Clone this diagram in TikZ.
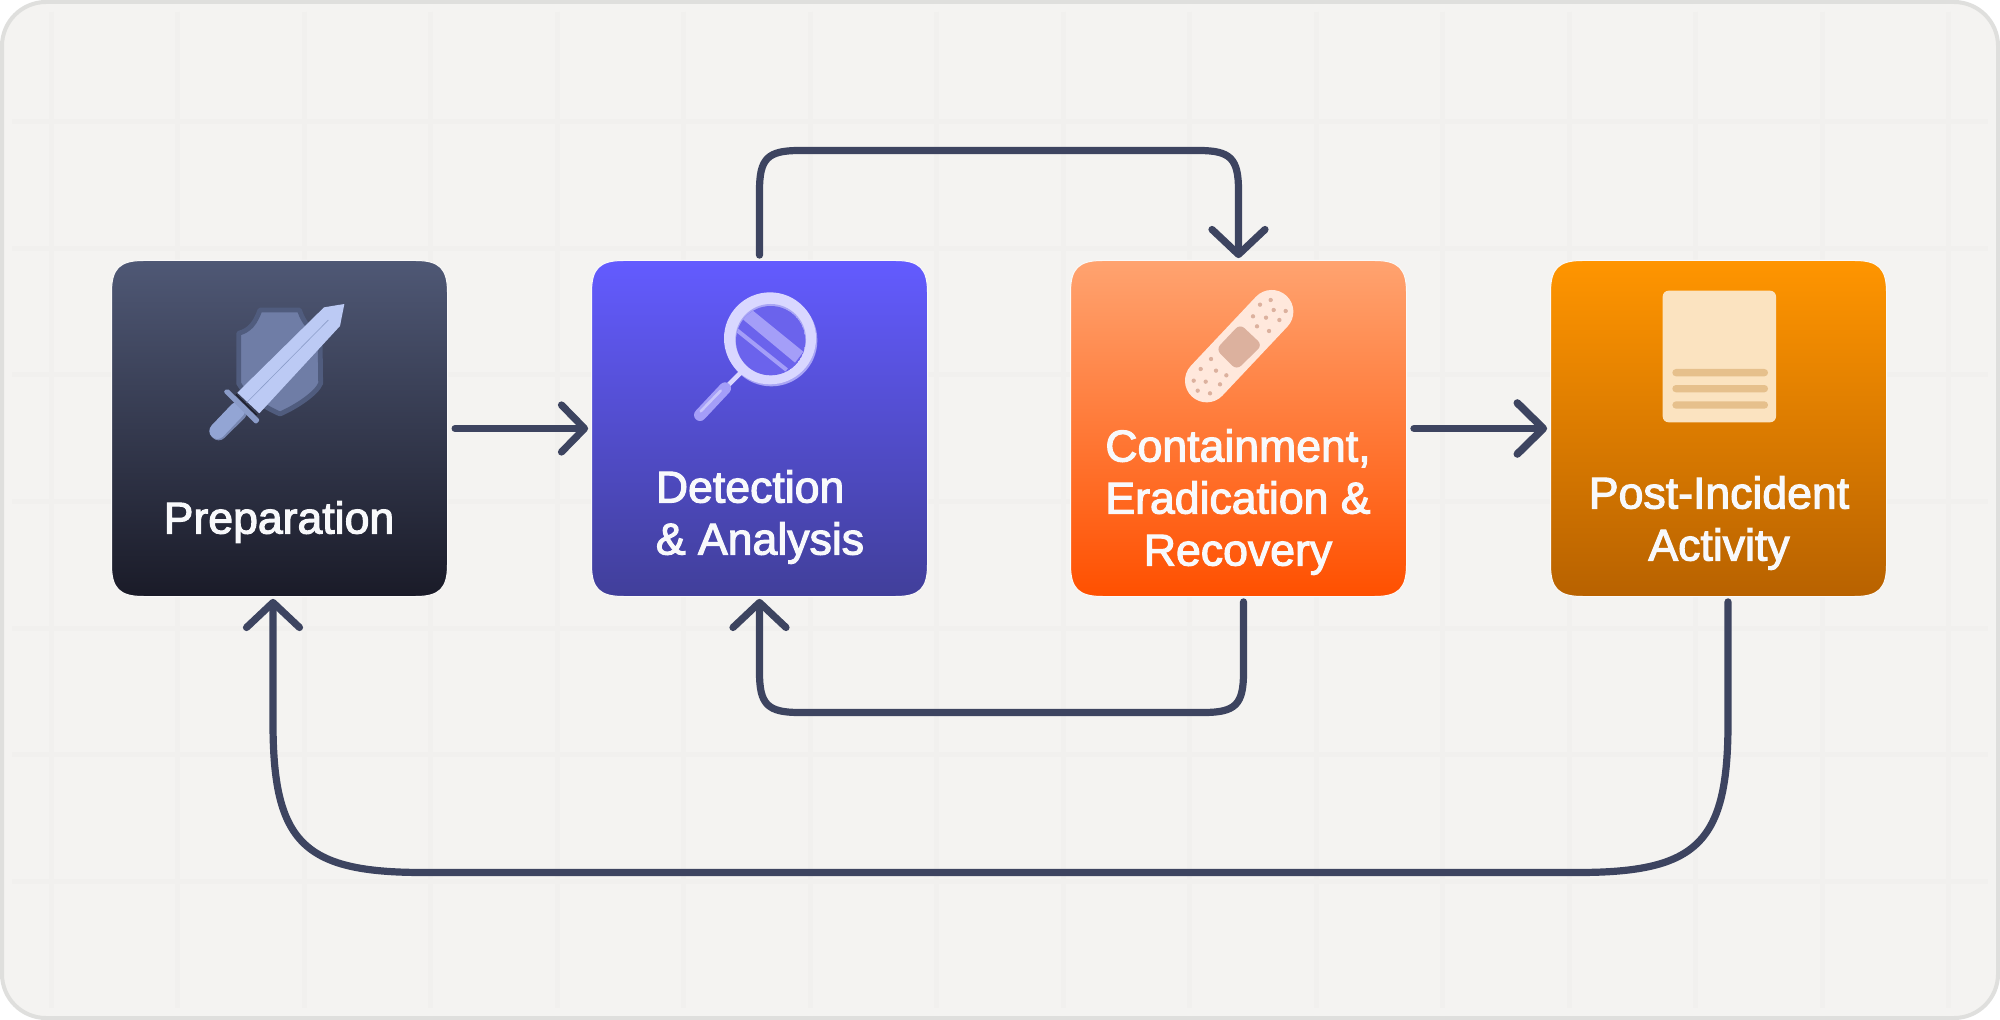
\documentclass[tikz,border=0pt]{standalone}
\usepackage{fontspec}
\usepackage{tikz}
\usetikzlibrary{shapes,positioning}
\usetikzlibrary{arrows.meta}
\newfontfamily\labelfont{Liberation Sans}[FakeBold=2.5]
\definecolor{paper}{HTML}{F4F3F1}
\definecolor{gridcol}{HTML}{F1F0EE}
\definecolor{rimcol}{HTML}{DFDFDD}
\definecolor{halocol}{HTML}{FBFAF9}
\definecolor{linkcol}{HTML}{3D4460}
\definecolor{inkcol}{HTML}{F8F9FB}
\definecolor{preptop}{HTML}{4F5875}
\definecolor{prepbot}{HTML}{1A1B28}
\definecolor{detecttop}{HTML}{635BFF}
\definecolor{detectbot}{HTML}{413F9A}
\definecolor{containtop}{HTML}{FFA370}
\definecolor{containbot}{HTML}{FF5000}
\definecolor{posttop}{HTML}{FF9500}
\definecolor{postbot}{HTML}{B86200}
\definecolor{shieldrim}{HTML}{505C7E}
\definecolor{shieldfill}{HTML}{6F7DA6}
\definecolor{bladecol}{HTML}{BCCAF4}
\definecolor{guardcol}{HTML}{8B9CC9}
\definecolor{gripcol}{HTML}{93A5D4}
\definecolor{gripdark}{HTML}{7786B0}
\definecolor{ringcol}{HTML}{D9D7FF}
\definecolor{ringdark}{HTML}{A9A5F5}
\definecolor{lenscol}{HTML}{6B63EC}
\definecolor{glintcol}{HTML}{A49EF8}
\definecolor{handlecol}{HTML}{C9C6FB}
\definecolor{stripcol}{HTML}{FFE8DC}
\definecolor{padcol}{HTML}{DCB19E}
\definecolor{sheetcol}{HTML}{FBE3C0}
\definecolor{rulecol}{HTML}{E6C08C}
\tikzset{
  stage/.style={minimum size=168pt,inner sep=0pt,outer sep=0pt},
  stagetext/.style={font=\labelfont\fontsize{22.3pt}{26pt}\selectfont,text=inkcol,inner sep=0pt},
  flow/.style={-{Straight Barb[length=11.5pt,width=23.5pt,line cap=round,round]},
    draw=linkcol,line width=3.6pt,line cap=round,shorten <=3.8pt,shorten >=1.7pt},
  flowwide/.style={flow,line width=3.8pt,-{Straight Barb[length=13pt,width=25.5pt,line cap=round,round]}},
  flowloop/.style={flow,shorten <=2.7pt,shorten >=1.2pt,-{Straight Barb[length=12.5pt,width=26.5pt,line cap=round,round]}},
  icon/.style={shift={#1},x=0.16667pt,y=-0.16667pt}
}
\newcommand{\stagefill}[3]{%
  \path[draw=halocol,line width=0.5pt,top color=#2,bottom color=#3]
    ([xshift=16pt]#1.north west) -- ([xshift=-16pt]#1.north east)
    .. controls ([xshift=-4pt]#1.north east) and ([yshift=-4pt]#1.north east) .. ([yshift=-16pt]#1.north east)
    -- ([yshift=16pt]#1.south east)
    .. controls ([yshift=4pt]#1.south east) and ([xshift=-4pt]#1.south east) .. ([xshift=-16pt]#1.south east)
    -- ([xshift=16pt]#1.south west)
    .. controls ([xshift=4pt]#1.south west) and ([yshift=4pt]#1.south west) .. ([yshift=16pt]#1.south west)
    -- ([yshift=-16pt]#1.north west)
    .. controls ([yshift=-4pt]#1.north west) and ([xshift=4pt]#1.north west) .. cycle;}
\begin{document}
\begin{tikzpicture}[x=0.5pt,y=-0.5pt]
\useasboundingbox (0,0) rectangle (2000,1020);
\fill[white] (0,0) rectangle (2000,1020);
\draw[rimcol,fill=paper,line width=2pt,rounded corners=22pt] (2,2) rectangle (1998,1018);

\foreach \x in {51,177.5,304,430.5,557,683.5,810,936.5,1063,1189.5,1316,1442.5,1569,1695.5,1822,1948.5}
  \draw[gridcol,line width=2.5pt] (\x,12) -- (\x,1008);
\foreach \y in {122,248.5,375,501.5,628,754.5,881}
  \draw[gridcol,line width=2.5pt] (12,\y) -- (1988,\y);

\node[stage] (prep) at (279.5,428.5) {};
\node[stage] (detect) at (759.5,428.5) {};
\node[stage] (contain) at (1238.5,428.5) {};
\node[stage] (post) at (1718.5,428.5) {};
\stagefill{prep}{preptop}{prepbot}
\stagefill{detect}{detecttop}{detectbot}
\stagefill{contain}{containtop}{containbot}
\stagefill{post}{posttop}{postbot}

\node[stagetext] (preptext) at (279,522) {Preparation};
\node[stagetext,align=left] (detecttext) at (760,517) {Detection\\\& Analysis};
\node[stagetext,align=center] (containtext) at (1238,502) {Containment,\\Eradication \&\\Recovery};
\node[stagetext,align=center] (posttext) at (1719,523) {Post-Incident\\Activity};

\draw[flow] (prep.east) -- (detect.west);
\draw[flowwide] (contain.east) -- (post.west);

\coordinate (upleft) at ([yshift=55pt]detect.north);
\coordinate (upright) at (contain.north |- upleft);
\draw[flowloop] (detect.north) -- ([yshift=-20pt]upleft)
  .. controls ([yshift=-4pt]upleft) and ([xshift=4pt]upleft) .. ([xshift=20pt]upleft)
  -- ([xshift=-20pt]upright)
  .. controls ([xshift=-4pt]upright) and ([yshift=-4pt]upright) .. ([yshift=-20pt]upright)
  -- (contain.north);

\coordinate (midright) at ([xshift=2.5pt,yshift=-58pt]contain.south);
\coordinate (midleft) at (detect.south |- midright);
\draw[flowloop] ([xshift=2.5pt]contain.south) -- ([yshift=20pt]midright)
  .. controls ([yshift=4pt]midright) and ([xshift=-4pt]midright) .. ([xshift=-20pt]midright)
  -- ([xshift=20pt]midleft)
  .. controls ([xshift=4pt]midleft) and ([yshift=4pt]midleft) .. ([yshift=20pt]midleft)
  -- (detect.south);

\coordinate (lowleft) at ([xshift=-3.25pt,yshift=-138pt]prep.south);
\coordinate (lowright) at ([xshift=4.75pt,yshift=-138pt]post.south);
\draw[flowloop] ([xshift=4.75pt]post.south) -- ([yshift=75pt]lowright)
  .. controls ([yshift=15pt]lowright) and ([xshift=-15pt]lowright) .. ([xshift=-75pt]lowright)
  -- ([xshift=75pt]lowleft)
  .. controls ([xshift=15pt]lowleft) and ([yshift=15pt]lowleft) .. ([yshift=75pt]lowleft)
  -- ([xshift=-3.25pt]prep.south);

\begin{scope}[icon={(100,250)}]
\draw[draw=shieldrim,fill=shieldfill,line width=2.4pt,line join=round]
  (480,180) -- (598,180) .. controls (612,220) and (630,240) .. (660,250) -- (662,400)
  .. controls (650,430) and (590,470) .. (540,492) .. controls (490,470) and (430,430) .. (416,400)
  -- (416,250) .. controls (450,240) and (465,220) .. (480,180) -- cycle;
\draw[gripdark,line width=8pt,line cap=round] (417,487) -- (356,547);
\draw[gripcol,line width=8pt,line cap=round] (412,480) -- (352,543);
\fill[guardcol,rounded corners=1pt] (370,425) -- (382,415) -- (480,510) -- (468,523) -- cycle;
\draw[prepbot,line width=0.5pt] (408,433) -- (470,495);
\fill[bladecol] (733,162) -- (672,172) -- (412,428) -- (478,490) -- (720,228) -- cycle;
\draw[guardcol,line width=0.3pt] (440,458) -- (685,210);
\end{scope}

\begin{scope}[icon={(580,250)}]
\fill[ringdark] (574,271) circle (138);
\fill[ringcol] (570,265) circle (138);
\fill[ringdark] (572,268) circle (106);
\begin{scope}
\clip (572,272) circle (104);
\fill[lenscol] (572,272) circle (104);
\fill[glintcol] (510,175) -- (485,205) -- (645,338) -- (670,305) -- cycle;
\draw[glintcol,line width=2pt] (470,240) -- (620,360);
\end{scope}
\draw[ringcol,line width=2.3pt] (485,365) -- (440,410);
\draw[glintcol,line width=6pt,line cap=round] (435,415) -- (360,495);
\draw[handlecol,line width=1.3pt,line cap=round] (422,422) -- (362,484);
\end{scope}

\begin{scope}[icon={(1060,250)}]
\draw[stripcol,line width=21.7pt,line cap=round] (440,392) -- (635,185);
\fill[padcol,rounded corners=3pt] (540,222) -- (607,285) -- (530,360) -- (468,298) -- cycle;
\foreach \px/\py in {600/164,632/150,579/199,641/180,677/183,618/203,658/210,591/229,627/243,453/327,422/357,468/362,499/376,401/392,437/395,480/403,413/422,450/430}
  \fill[padcol] (\px,\py) circle (6.5);
\end{scope}

\begin{scope}[icon={(1540,250)}]
\fill[sheetcol,rounded corners=3pt] (368,122) rectangle (708,517);
\foreach \py in {357,405,454}
  \fill[rulecol,rounded corners=1.8pt] (397,\py) rectangle (684,\py+22);
\end{scope}
\end{tikzpicture}
\end{document}
